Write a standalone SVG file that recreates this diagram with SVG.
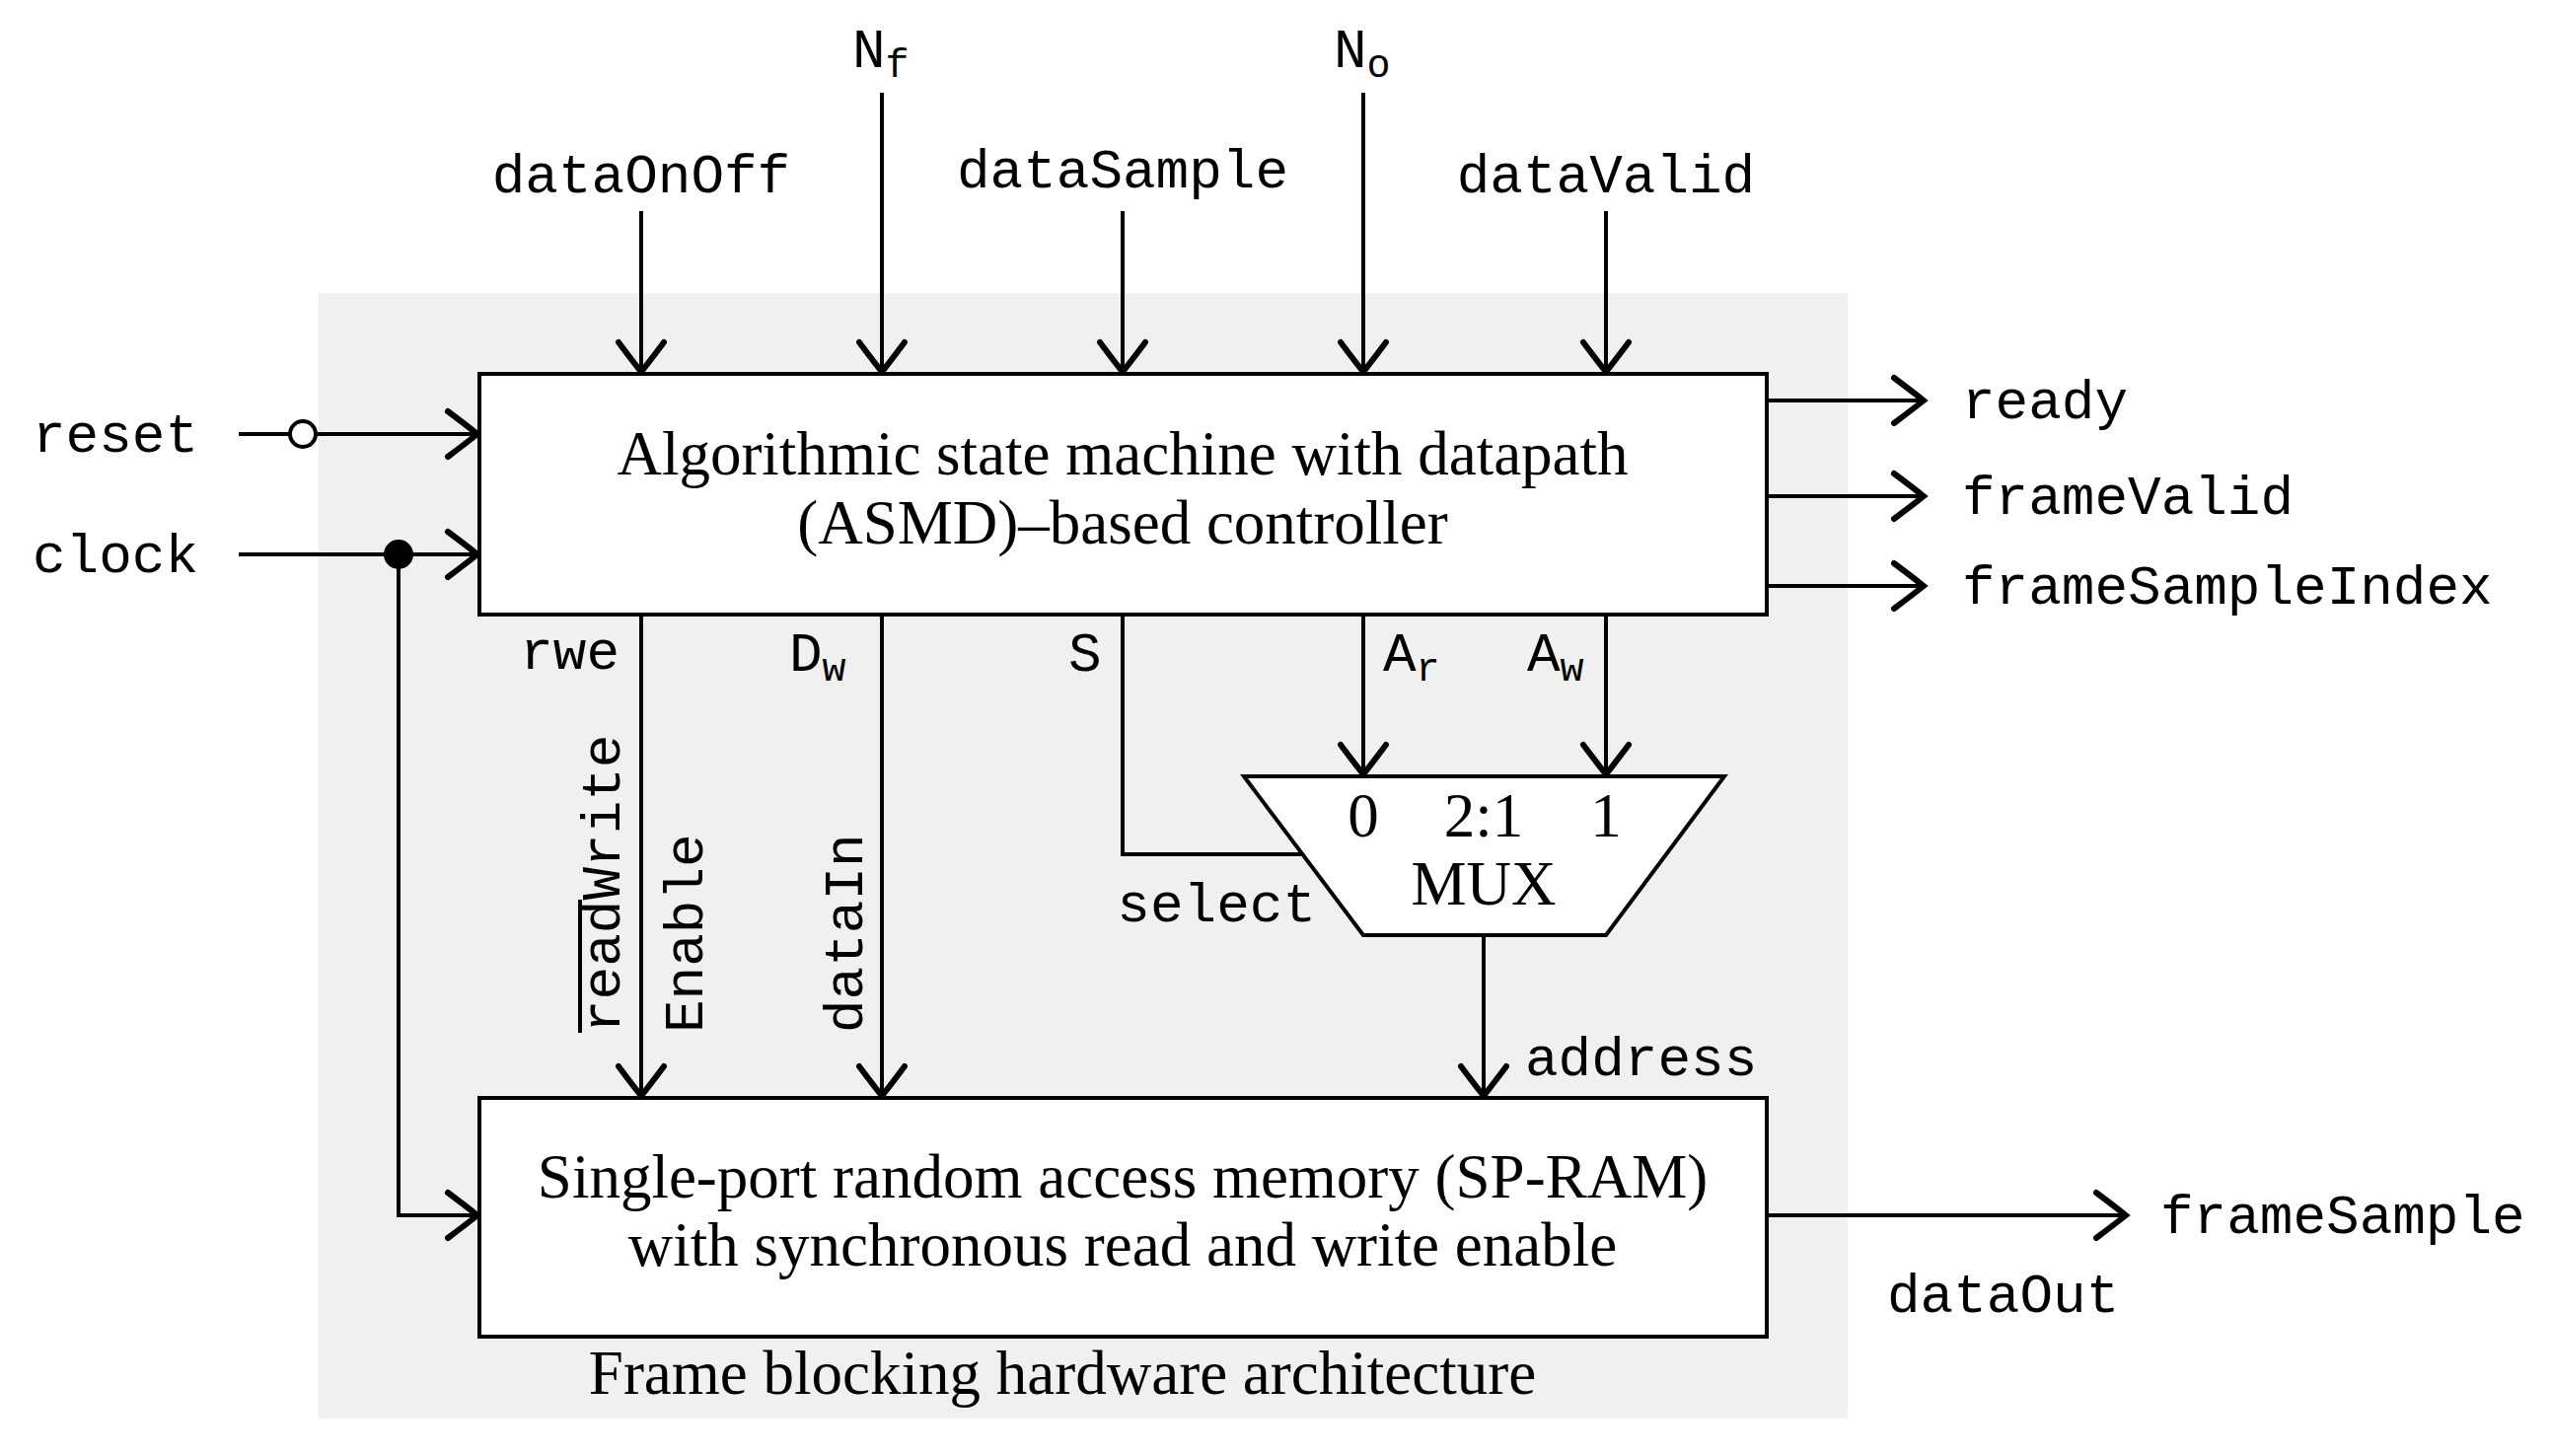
<svg xmlns="http://www.w3.org/2000/svg" width="2586" height="1476" viewBox="0 0 2586 1476">
<style>
.m{font-family:"Liberation Mono","DejaVu Sans Mono",monospace;font-size:56px;fill:#000}
.s{font-family:"Liberation Serif","DejaVu Serif",serif;font-size:63px;fill:#000}
.w{stroke:#000;stroke-width:4;fill:none}
.b{stroke:#000;stroke-width:4;fill:#fff}
</style>
<defs>
<marker id="a" markerUnits="userSpaceOnUse" markerWidth="70" markerHeight="70" viewBox="-40 -35 50 70" refX="0" refY="0" orient="auto">
<path d="M-30,-23 Q-10,-8 0,0 Q-10,8 -30,23" fill="none" stroke="#000" stroke-width="6" stroke-linecap="round"/>
</marker>
</defs>
<rect x="323" y="297" width="1550" height="1141" fill="#f0f0f0"/>
<g id="connectors" class="w">
<line x1="650" y1="214" x2="650" y2="377" marker-end="url(#a)"/>
<line x1="894" y1="94" x2="894" y2="377" marker-end="url(#a)"/>
<line x1="1138" y1="214" x2="1138" y2="377" marker-end="url(#a)"/>
<line x1="1382" y1="94" x2="1382" y2="377" marker-end="url(#a)"/>
<line x1="1628" y1="214" x2="1628" y2="377" marker-end="url(#a)"/>
<line x1="1791" y1="406" x2="1950" y2="406" marker-end="url(#a)"/>
<line x1="1791" y1="503" x2="1950" y2="503" marker-end="url(#a)"/>
<line x1="1791" y1="594" x2="1950" y2="594" marker-end="url(#a)"/>
<line x1="242" y1="440" x2="294" y2="440"/>
<line x1="320" y1="440" x2="484" y2="440" marker-end="url(#a)"/>
<line x1="242" y1="562" x2="484" y2="562" marker-end="url(#a)"/>
<polyline points="404,562 404,1232 484,1232" marker-end="url(#a)"/>
<line x1="650" y1="623" x2="650" y2="1111" marker-end="url(#a)"/>
<line x1="894" y1="623" x2="894" y2="1111" marker-end="url(#a)"/>
<polyline points="1138,623 1138,866 1320,866"/>
<line x1="1382" y1="623" x2="1382" y2="785" marker-end="url(#a)"/>
<line x1="1628" y1="623" x2="1628" y2="785" marker-end="url(#a)"/>
<line x1="1504" y1="948" x2="1504" y2="1111" marker-end="url(#a)"/>
<line x1="1791" y1="1232" x2="2155" y2="1232" marker-end="url(#a)"/>
<circle cx="307" cy="440" r="13" fill="#fff"/>
<circle cx="404" cy="562" r="13" fill="#000"/>
</g>
<g id="asmd">
<rect class="b" x="486" y="379" width="1305" height="244"/>
<text class="s" x="1138" y="481" text-anchor="middle">Algorithmic state machine with datapath</text>
<text class="s" x="1138" y="551" text-anchor="middle">(ASMD)–based controller</text>
</g>
<g id="ram">
<rect class="b" x="486" y="1113" width="1305" height="242"/>
<text class="s" x="1138" y="1214" text-anchor="middle">Single-port random access memory (SP-RAM)</text>
<text class="s" x="1138" y="1283" text-anchor="middle">with synchronous read and write enable</text>
</g>
<g id="mux">
<polygon class="b" points="1261,787 1748,787 1628,948 1382,948"/>
<text class="s" x="1382" y="848" text-anchor="middle" font-size="54">0</text>
<text class="s" x="1504" y="848" text-anchor="middle" font-size="54">2:1</text>
<text class="s" x="1628" y="848" text-anchor="middle" font-size="54">1</text>
<text class="s" x="1504" y="917" text-anchor="middle">MUX</text>
</g>
<g id="labels">
<text class="m" x="650" y="195" text-anchor="middle">dataOnOff</text>
<text class="m" x="1138" y="190" text-anchor="middle">dataSample</text>
<text class="m" x="1628" y="195" text-anchor="middle">dataValid</text>
<text class="m" x="864" y="68">N<tspan font-size="40" dy="10">f</tspan></text>
<text class="m" x="1352" y="68">N<tspan font-size="40" dy="10">o</tspan></text>
<text class="m" x="1989" y="424">ready</text>
<text class="m" x="1989" y="521">frameValid</text>
<text class="m" x="1989" y="612">frameSampleIndex</text>
<text class="m" x="33" y="458">reset</text>
<text class="m" x="33" y="580">clock</text>
<text class="m" x="628" y="678" text-anchor="end">rwe</text>
<text class="m" x="800" y="680">D<tspan font-size="40" dy="10">w</tspan></text>
<text class="m" x="1083" y="680">S</text>
<text class="m" x="1402" y="680">A<tspan font-size="40" dy="10">r</tspan></text>
<text class="m" x="1548" y="680">A<tspan font-size="40" dy="10">w</tspan></text>
<text class="m" x="1334" y="934" text-anchor="end">select</text>
<text class="m" x="1546" y="1090">address</text>
<text class="m" x="2190" y="1250">frameSample</text>
<text class="m" x="1913" y="1330">dataOut</text>
<text class="m" transform="translate(628,1047) rotate(-90)">readWrite</text>
<line x1="588" y1="1047" x2="588" y2="912" stroke="#000" stroke-width="4"/>
<text class="m" transform="translate(712,1047) rotate(-90)">Enable</text>
<text class="m" transform="translate(874,1047) rotate(-90)">dataIn</text>
<text class="s" x="1077" y="1413" text-anchor="middle">Frame blocking hardware architecture</text>
</g>
</svg>
